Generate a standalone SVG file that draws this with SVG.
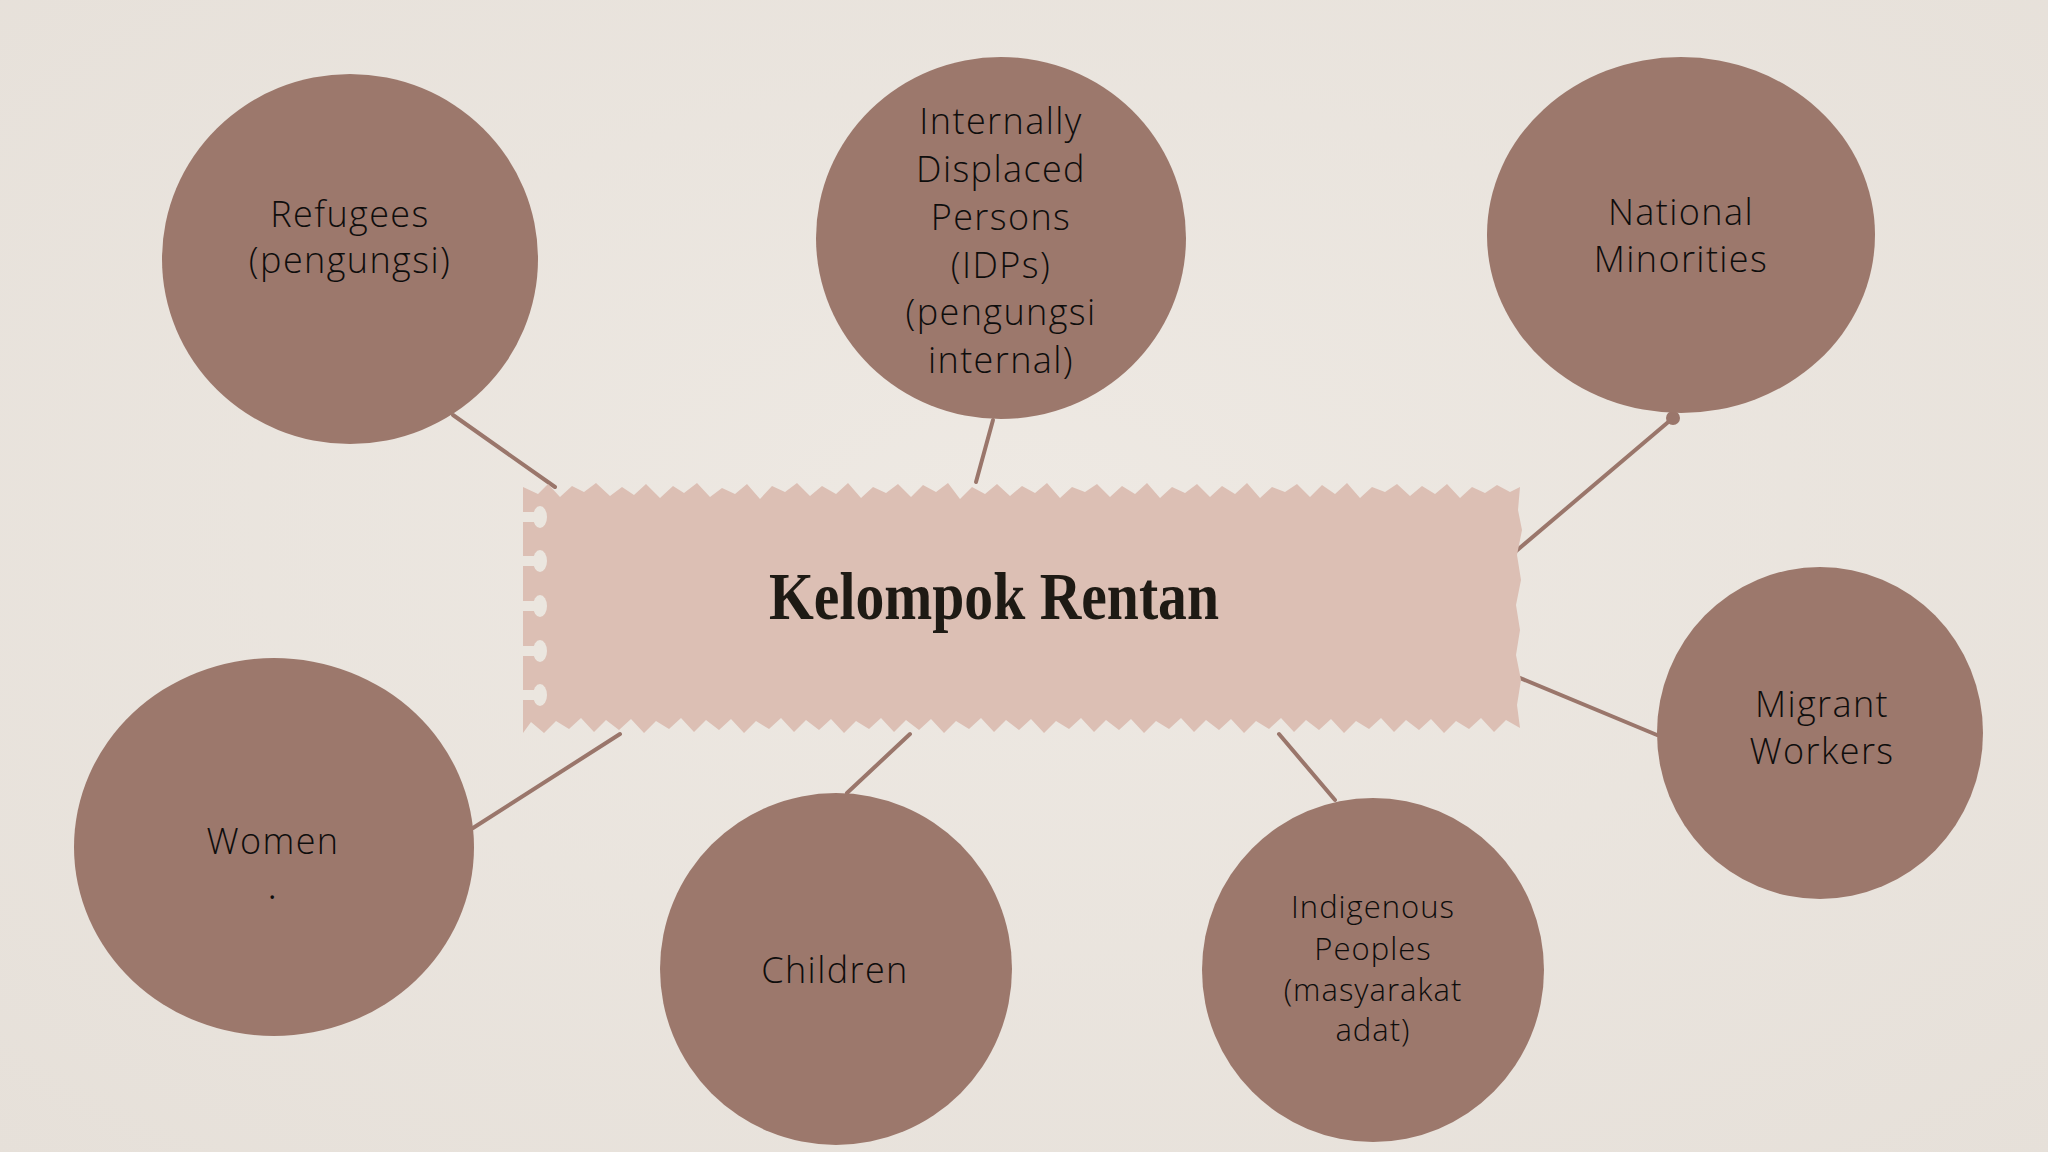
<svg xmlns="http://www.w3.org/2000/svg" width="2048" height="1152" viewBox="0 0 2048 1152">
<defs>
<radialGradient id="bg" cx="50%" cy="45%" r="75%">
<stop offset="0" stop-color="#eee9e3"/>
<stop offset="1" stop-color="#e6e0d9"/>
</radialGradient>
<style>
.node{fill:#9c786c}
.lbl{font-family:"Open Sans","Lato","DejaVu Sans",sans-serif;font-weight:300;font-size:36px;letter-spacing:1.4px;fill:#0e0d0c;text-anchor:middle}
.sm{font-size:31px;letter-spacing:1px}
.dot{font-size:30px;font-weight:400}
.conn{stroke:#9a766b;stroke-width:4;stroke-linecap:round;fill:none}
.notch{fill:#ebe6df}
</style>
</defs>
<rect x="0" y="0" width="2048" height="1152" fill="url(#bg)"/>

<g id="connectors">
<line class="conn" x1="453" y1="415" x2="555" y2="487"/>
<line class="conn" x1="993" y1="420" x2="976" y2="482"/>
<line class="conn" x1="1673" y1="418" x2="1508" y2="558"/>
<line class="conn" x1="1657" y1="735" x2="1508" y2="673"/>
<line class="conn" x1="1335" y1="800" x2="1279" y2="734"/>
<line class="conn" x1="847" y1="793" x2="910" y2="734"/>
<line class="conn" x1="473" y1="828" x2="620" y2="734"/>
<circle cx="1673" cy="418" r="7" fill="#9a766b"/>
</g>

<g id="center">
<path fill="#dcbfb4" d="M523,487 L538,494 548,484 560,497 572,486 584,492 596,483 610,496 622,487 634,495 646,484 660,498 673,486 684,493 697,483 710,497 722,488 735,494 747,484 760,499 772,486 785,492 797,483 810,496 822,486 836,494 848,483 861,498 873,487 886,493 898,484 911,497 923,485 936,492 948,483 960,499 972,487 985,494 997,484 1010,496 1022,486 1035,493 1047,483 1060,498 1072,487 1085,492 1097,484 1110,497 1122,486 1135,494 1147,483 1160,498 1172,487 1185,493 1197,484 1210,497 1222,486 1235,494 1247,483 1260,498 1272,487 1285,492 1297,484 1310,497 1322,485 1335,494 1347,483 1360,498 1372,487 1385,492 1397,484 1410,496 1422,486 1435,494 1447,484 1460,498 1472,487 1485,493 1497,485 1510,492 1520,487 L1518,510 1522,530 1517,555 1521,580 1516,605 1520,630 1516,655 1521,680 1517,705 1520,728 L1506,720 1494,732 1481,718 1469,729 1456,721 1444,733 1431,719 1419,730 1406,720 1394,732 1381,718 1369,729 1356,721 1344,733 1331,719 1319,730 1306,720 1294,732 1281,718 1269,729 1256,721 1244,733 1231,719 1219,730 1206,720 1194,732 1181,718 1169,729 1156,721 1144,733 1131,719 1119,730 1106,720 1094,732 1081,718 1069,729 1056,721 1044,733 1031,719 1019,730 1006,720 994,732 981,718 969,729 956,721 944,733 931,719 919,730 906,720 894,732 881,718 869,729 856,721 844,733 831,719 819,730 806,720 794,732 781,718 769,729 756,721 744,733 731,719 719,730 706,720 694,732 681,718 669,729 656,721 644,733 631,719 619,730 606,720 594,732 581,718 569,729 556,721 544,733 531,722 523,733 Z"/>
<g class="notch">
<rect x="520" y="512" width="20" height="10"/><ellipse cx="540" cy="517" rx="7" ry="11"/>
<rect x="520" y="556" width="20" height="10"/><ellipse cx="540" cy="561" rx="7" ry="11"/>
<rect x="520" y="601" width="20" height="10"/><ellipse cx="540" cy="606" rx="7" ry="11"/>
<rect x="520" y="646" width="20" height="10"/><ellipse cx="540" cy="651" rx="7" ry="11"/>
<rect x="520" y="690" width="20" height="10"/><ellipse cx="540" cy="695" rx="7" ry="11"/>
</g>
<text x="994" y="619" text-anchor="middle" font-family="Liberation Serif, serif" font-weight="bold" font-size="68" fill="#1e1a14" textLength="450" lengthAdjust="spacingAndGlyphs">Kelompok Rentan</text>
</g>

<g id="refugees">
<ellipse class="node" cx="350" cy="259" rx="188" ry="185"/>
<text class="lbl" x="350" y="227">Refugees</text>
<text class="lbl" x="350" y="273">(pengungsi)</text>
</g>

<g id="idp">
<ellipse class="node" cx="1001" cy="238" rx="185" ry="181"/>
<text class="lbl" x="1001" y="134">Internally</text>
<text class="lbl" x="1001" y="182">Displaced</text>
<text class="lbl" x="1001" y="230">Persons</text>
<text class="lbl" x="1001" y="278">(IDPs)</text>
<text class="lbl" x="1001" y="325">(pengungsi</text>
<text class="lbl" x="1001" y="373">internal)</text>
</g>

<g id="national">
<ellipse class="node" cx="1681" cy="235" rx="194" ry="178"/>
<text class="lbl" x="1681" y="225">National</text>
<text class="lbl" x="1681" y="272">Minorities</text>
</g>

<g id="migrant">
<ellipse class="node" cx="1820" cy="733" rx="163" ry="166"/>
<text class="lbl" x="1822" y="717">Migrant</text>
<text class="lbl" x="1822" y="764">Workers</text>
</g>

<g id="women">
<ellipse class="node" cx="274" cy="847" rx="200" ry="189"/>
<text class="lbl" x="273" y="854">Women</text>
<text class="lbl dot" x="273" y="899">.</text>
</g>

<g id="children">
<ellipse class="node" cx="836" cy="969" rx="176" ry="176"/>
<text class="lbl" x="835" y="983">Children</text>
</g>

<g id="indigenous">
<ellipse class="node" cx="1373" cy="970" rx="171" ry="172"/>
<text class="lbl sm" x="1373" y="918">Indigenous</text>
<text class="lbl sm" x="1373" y="960">Peoples</text>
<text class="lbl sm" x="1373" y="1001">(masyarakat</text>
<text class="lbl sm" x="1373" y="1041">adat)</text>
</g>
</svg>
